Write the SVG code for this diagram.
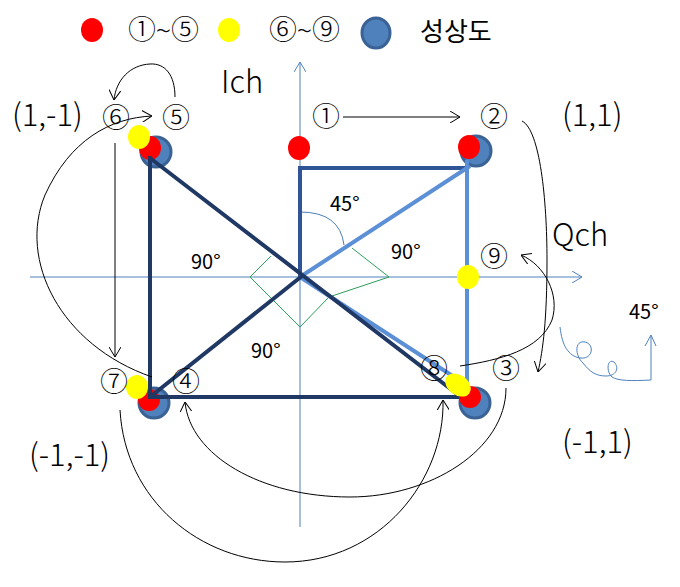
<svg xmlns="http://www.w3.org/2000/svg" width="680" height="587" viewBox="0 0 680 587">
<style>
.t{font-family:"Noto Sans CJK KR","Noto Sans",sans-serif;fill:#000}
.big{font-size:31px;font-weight:300}
.num{font-family:"Noto Sans CJK KR","DejaVu Sans",sans-serif;font-size:28px;fill:#000;font-weight:300}
.deg{font-family:"Noto Sans CJK KR","Noto Sans",sans-serif;font-size:20px;fill:#000}
.arc{fill:none;stroke:#000;stroke-width:1}
.ax{stroke:#4f81bd;stroke-width:1;fill:none}
.red{fill:#ff0000}
.yel{fill:#ffff00}
.cst{fill:#4f81bd;stroke:#3a6294;stroke-width:3}
.dk{stroke:#1f3864;stroke-width:4;fill:none}
.md{stroke:#2f5597;stroke-width:4;fill:none}
.lt{stroke:#5b8fd6;stroke-width:4;fill:none}
.gr{stroke:#2e9e5b;stroke-width:1;fill:none}
</style>
<defs>
<marker id="arr" viewBox="0 0 10 12" refX="10" refY="6" markerWidth="10" markerHeight="12" orient="auto" markerUnits="userSpaceOnUse"><path d="M0,0 L10,6 L0,12" fill="none" stroke="#000" stroke-width="1"/></marker>
<marker id="arrb" viewBox="0 0 10 12" refX="10" refY="6" markerWidth="10" markerHeight="12" orient="auto" markerUnits="userSpaceOnUse"><path d="M0,0 L10,6 L0,12" fill="none" stroke="#4f81bd" stroke-width="1"/></marker>
</defs>
<rect width="680" height="587" fill="#fff"/>

<g id="legend">
<ellipse class="red" cx="92" cy="30" rx="11" ry="12"/>
<text class="num" x="128" y="40">①<tspan font-family="Noto Sans, sans-serif" font-size="26">~</tspan>⑤</text>
<ellipse class="yel" cx="229" cy="30" rx="11" ry="12"/>
<text class="num" x="269" y="40">⑥<tspan font-family="Noto Sans, sans-serif" font-size="26">~</tspan>⑨</text>
<ellipse class="cst" cx="376" cy="33" rx="14" ry="15"/>
<text class="t" x="420" y="41" font-size="26">성상도</text>
</g>

<g id="axes">
<line class="ax" x1="300" y1="527" x2="300" y2="62" marker-end="url(#arrb)"/>
<line class="ax" x1="30" y1="277" x2="582" y2="277" marker-end="url(#arrb)"/>
</g>

<g id="right-angle-marks">
<path class="gr" d="M271,256 L250,277 L300,327 L328,298 M332,296 L389,277 L352,248"/>
<path d="M300,212 Q340,212 344,245" fill="none" stroke="#4a7ebb" stroke-width="1"/>
</g>

<g id="constellation">
<ellipse class="cst" cx="156" cy="152" rx="15" ry="15"/>
<ellipse class="cst" cx="476" cy="151" rx="15" ry="15"/>
<ellipse class="cst" cx="154" cy="403" rx="15" ry="15"/>
<ellipse class="cst" cx="475" cy="403" rx="15" ry="15"/>
</g>

<g id="points-under">
<ellipse class="red" cx="150" cy="148" rx="11" ry="12"/>
<ellipse class="yel" cx="139" cy="137" rx="11" ry="12"/>
<ellipse class="red" cx="149" cy="400" rx="11" ry="11"/>
<ellipse class="yel" cx="137" cy="387" rx="11" ry="12"/>
</g>

<g id="lines">
<path class="md" d="M300,277 L300,168 L469,168"/>
<line class="lt" x1="467" y1="160" x2="467" y2="388"/>
<line class="lt" x1="300" y1="277" x2="470" y2="166"/>
<line class="lt" x1="300" y1="277" x2="468" y2="386"/>
<path class="dk" d="M150,156 L150,397 L461,397 L150,158"/>
<line class="dk" x1="150" y1="397" x2="302" y2="276" stroke-width="6"/>
</g>

<g id="points-over">
<ellipse class="red" cx="299" cy="148" rx="11" ry="12"/>
<ellipse class="red" cx="469" cy="147" rx="11" ry="12"/>
<ellipse class="yel" cx="468" cy="277" rx="11" ry="12"/>
<ellipse class="red" cx="470" cy="397" rx="11" ry="11"/>
<ellipse class="yel" cx="458" cy="385" rx="14" ry="10" transform="rotate(37 458 385)"/>
</g>

<g id="connectors">
<line class="arc" x1="343" y1="117" x2="460" y2="117" marker-end="url(#arr)"/>
<path class="arc" d="M522,121 C540,130 547,200 547,260 C547,320 543,350 538,372" marker-end="url(#arr)"/>
<path class="arc" d="M506,388 C506,450 430,497 350,497 C260,497 190,455 185,402" marker-end="url(#arr)"/>
<path class="arc" d="M152,377 C60,345 18,260 45,195 C70,140 110,118 152,116" marker-end="url(#arr)"/>
<path class="arc" d="M175,97 C175,75 165,63 150,64 C130,65 116,80 114,100" marker-end="url(#arr)"/>
<line class="arc" x1="115" y1="143" x2="115" y2="357" marker-end="url(#arr)"/>
<path class="arc" d="M120,410 C125,500 200,562 285,562 C380,562 445,480 443,400" marker-end="url(#arr)"/>
<path class="arc" d="M460,366 C500,360 540,350 552,320 C560,295 545,265 521,255" marker-end="url(#arr)"/>
<path d="M560,327 C562,345 568,356 580,358 C593,360 595,344 585,342 C574,340 575,356 583,363 C590,372 596,376 606,376 C616,376 620,368 614,362 C607,358 606,372 612,377 C618,381 632,381 651,380 L651,336" fill="none" stroke="#4f81bd" stroke-width="1"/>
<path d="M645,346 L651,335 L656,346" fill="none" stroke="#4f81bd" stroke-width="1"/>
</g>

<g id="labels">
<text class="t big" x="221" y="93">Ich</text>
<text class="t big" x="552" y="246">Qch</text>
<text class="t big" x="12" y="126">(1,-1)</text>
<text class="t big" x="562" y="126">(1,1)</text>
<text class="t big" x="29" y="466">(-1,-1)</text>
<text class="t big" x="562" y="453">(-1,1)</text>
<text class="num" x="312" y="127">①</text>
<text class="num" x="480" y="127">②</text>
<text class="num" x="492" y="379">③</text>
<text class="num" x="172" y="392">④</text>
<text class="num" x="162" y="128">⑤</text>
<text class="num" x="102" y="128">⑥</text>
<text class="num" x="100" y="392">⑦</text>
<text class="num" x="420" y="379">⑧</text>
<text class="num" x="480" y="267">⑨</text>
<text class="deg" x="330" y="211">45°</text>
<text class="deg" x="191" y="269">90°</text>
<text class="deg" x="391" y="259">90°</text>
<text class="deg" x="251" y="358">90°</text>
<text class="deg" x="629" y="319">45°</text>
</g>
</svg>
